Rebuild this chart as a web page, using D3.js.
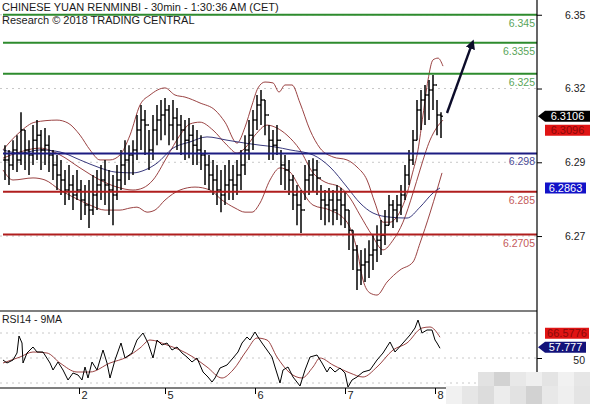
<!DOCTYPE html>
<html>
<head>
<meta charset="utf-8">
<script src="https://cdn.jsdelivr.net/npm/d3@7"></script>
<style>
body { margin: 0; background: #fff; }
svg { display: block; font-family: "Liberation Sans", Arial, sans-serif; }
</style>
</head>
<body>
<script>
// 30min bars, one entry per bar
var barHigh = [
  6.3008, 6.2992, 6.3025, 6.3042, 6.3120, 6.3059, 6.3025, 6.3076, 6.3093, 6.3059,
  6.3066, 6.3042, 6.2992, 6.2975, 6.2958, 6.2924, 6.2941, 6.2907, 6.2924, 6.2890,
  6.2873, 6.2890, 6.2907, 6.2924, 6.2941, 6.2958, 6.2924, 6.2907, 6.2941, 6.2992,
  6.3025, 6.3008, 6.3025, 6.3110, 6.3144, 6.3127, 6.3059, 6.3110, 6.3144, 6.3161,
  6.3168, 6.3144, 6.3161, 6.3134, 6.3110, 6.3093, 6.3100, 6.3076, 6.3059, 6.3042,
  6.2992, 6.2975, 6.2958, 6.2941, 6.2924, 6.2941, 6.2958, 6.2941, 6.2958, 6.2992,
  6.3042, 6.3093, 6.3127, 6.3178, 6.3195, 6.3161, 6.3076, 6.3059, 6.3076, 6.2992,
  6.2975, 6.2958, 6.2907, 6.2873, 6.2856, 6.2941, 6.2958, 6.2964, 6.2958, 6.2873,
  6.2856, 6.2863, 6.2856, 6.2873, 6.2863, 6.2849, 6.2788, 6.2720, 6.2670, 6.2653,
  6.2659, 6.2686, 6.2703, 6.2737, 6.2754, 6.2788, 6.2839, 6.2822, 6.2839, 6.2873,
  6.2941, 6.2992, 6.3059, 6.3161, 6.3195, 6.3212, 6.3229, 6.3246, 6.3161, 6.3120
];
var barLow = [
  6.2890, 6.2873, 6.2924, 6.2917, 6.2941, 6.2924, 6.2907, 6.2941, 6.2958, 6.2924,
  6.2941, 6.2917, 6.2890, 6.2856, 6.2839, 6.2805, 6.2822, 6.2788, 6.2822, 6.2754,
  6.2771, 6.2727, 6.2771, 6.2788, 6.2822, 6.2805, 6.2771, 6.2737, 6.2822, 6.2856,
  6.2873, 6.2890, 6.2907, 6.2958, 6.2992, 6.2975, 6.2924, 6.2958, 6.3008, 6.3025,
  6.3042, 6.3008, 6.3025, 6.2992, 6.2975, 6.2958, 6.2964, 6.2941, 6.2941, 6.2924,
  6.2873, 6.2856, 6.2839, 6.2805, 6.2781, 6.2805, 6.2822, 6.2822, 6.2839, 6.2856,
  6.2907, 6.2958, 6.2992, 6.3059, 6.3076, 6.3042, 6.2958, 6.2958, 6.2975, 6.2873,
  6.2856, 6.2839, 6.2788, 6.2737, 6.2710, 6.2822, 6.2839, 6.2849, 6.2839, 6.2754,
  6.2737, 6.2747, 6.2737, 6.2754, 6.2737, 6.2727, 6.2653, 6.2585, 6.2517, 6.2534,
  6.2544, 6.2558, 6.2585, 6.2612, 6.2636, 6.2670, 6.2737, 6.2727, 6.2747, 6.2771,
  6.2822, 6.2873, 6.2941, 6.3025, 6.3059, 6.3076, 6.3093, 6.3127, 6.3042, 6.3032
];
var barClose = [
  6.2958, 6.2941, 6.2992, 6.2958, 6.3059, 6.2992, 6.2975, 6.3025, 6.3042, 6.2992,
  6.3008, 6.2975, 6.2941, 6.2907, 6.2890, 6.2856, 6.2873, 6.2839, 6.2856, 6.2822,
  6.2805, 6.2788, 6.2839, 6.2873, 6.2890, 6.2873, 6.2856, 6.2839, 6.2890, 6.2941,
  6.2958, 6.2975, 6.2992, 6.3059, 6.3093, 6.3076, 6.2992, 6.3059, 6.3093, 6.3110,
  6.3127, 6.3076, 6.3100, 6.3076, 6.3059, 6.3025, 6.3042, 6.3008, 6.2992, 6.2975,
  6.2941, 6.2907, 6.2890, 6.2856, 6.2839, 6.2873, 6.2890, 6.2873, 6.2907, 6.2941,
  6.2992, 6.3042, 6.3093, 6.3144, 6.3161, 6.3110, 6.3025, 6.3008, 6.3025, 6.2941,
  6.2924, 6.2890, 6.2839, 6.2805, 6.2788, 6.2890, 6.2907, 6.2924, 6.2897, 6.2822,
  6.2805, 6.2822, 6.2788, 6.2822, 6.2805, 6.2788, 6.2720, 6.2653, 6.2585, 6.2602,
  6.2612, 6.2636, 6.2653, 6.2686, 6.2703, 6.2737, 6.2805, 6.2788, 6.2805, 6.2839,
  6.2907, 6.2958, 6.3025, 6.3127, 6.3161, 6.3178, 6.3195, 6.3212, 6.3110, 6.3106
];

// bollinger bands and moving average, read at bar positions
var upperIdx = [-0.5, 3.75, 7.5, 13, 15.75, 18.75, 21.25, 23.75, 26.25, 28.75, 31.25, 33.75, 36.25, 40, 42.5, 45, 48.75, 52.5, 55, 58, 60, 61.75, 63.25, 65, 67, 68.5, 70, 71.75, 73.75, 76.25, 78.75, 82, 85.5, 88, 90.5, 92.5, 94.5, 96.25, 98.25, 100, 101.75, 103.25, 104.5, 105.75, 107, 108.25, 109.5];
var upperVal = [6.2992, 6.3053, 6.3086, 6.3093, 6.3083, 6.3042, 6.2992, 6.2958, 6.2958, 6.2975, 6.3042, 6.3144, 6.3178, 6.3202, 6.3178, 6.3171, 6.3151, 6.3127, 6.3086, 6.3015, 6.3069, 6.3144, 6.3202, 6.3222, 6.3219, 6.3188, 6.3212, 6.3212, 6.3151, 6.3059, 6.2998, 6.2968, 6.2958, 6.2934, 6.2890, 6.2812, 6.2747, 6.2747, 6.2771, 6.2822, 6.2907, 6.2992, 6.3110, 6.3229, 6.3297, 6.3303, 6.3276];

var midIdx = [-0.5, 3.75, 8.75, 13.75, 18.75, 23.75, 28, 32, 34.5, 37, 40.5, 43.75, 46.25, 48.75, 52, 55.5, 58, 60, 62.5, 65.5, 68, 70.5, 73.75, 77, 80, 83.75, 86.25, 88.75, 91.75, 94.5, 97, 99.5, 102, 103.75, 106.25, 108, 109.5];
var midVal = [6.2964, 6.2985, 6.2998, 6.2975, 6.2931, 6.2890, 6.2866, 6.2856, 6.2863, 6.2890, 6.2968, 6.3042, 6.3080, 6.3086, 6.3059, 6.3008, 6.2981, 6.2998, 6.3042, 6.3076, 6.3066, 6.3042, 6.2992, 6.2914, 6.2883, 6.2866, 6.2829, 6.2771, 6.2703, 6.2653, 6.2686, 6.2747, 6.2846, 6.2924, 6.3025, 6.3069, 6.3093];

var lowIdx = [-0.5, 2, 7, 10, 13.75, 17.5, 21.25, 25, 28.75, 31.25, 33, 35.5, 37.5, 40, 43.75, 47.5, 51.25, 54.25, 57.5, 60, 61.75, 63.75, 66.25, 68.75, 71.25, 73.75, 77, 81.25, 85.5, 88, 89.5, 91.25, 93, 95.5, 98.75, 102, 103.75, 106.25, 108, 109.25];
var lowVal = [6.2924, 6.2890, 6.2897, 6.2890, 6.2856, 6.2829, 6.2805, 6.2788, 6.2788, 6.2795, 6.2798, 6.2781, 6.2788, 6.2822, 6.2856, 6.2866, 6.2856, 6.2822, 6.2795, 6.2781, 6.2781, 6.2812, 6.2890, 6.2931, 6.2917, 6.2863, 6.2805, 6.2788, 6.2747, 6.2653, 6.2551, 6.2507, 6.2500, 6.2544, 6.2585, 6.2612, 6.2676, 6.2778, 6.2856, 6.2914];

var maIdx = [-0.5, 3.75, 8.75, 13.75, 18.75, 23.75, 27.5, 32, 35, 38, 42, 46.25, 50.5, 55.5, 60, 63.75, 67.5, 71.25, 77, 81.25, 85.5, 88.75, 92, 96.25, 100.5, 103.75, 107, 108.75];
var maVal = [6.2992, 6.2981, 6.2992, 6.2985, 6.2958, 6.2931, 6.2917, 6.2914, 6.2924, 6.2947, 6.2998, 6.3019, 6.3036, 6.3025, 6.3015, 6.3008, 6.3002, 6.2992, 6.2975, 6.2934, 6.2866, 6.2812, 6.2778, 6.2764, 6.2761, 6.2798, 6.2846, 6.2863];

// RSI14 and its 9 period average
var rsiIdx = [-0.5, 0.5, 2, 3, 3.5, 4.25, 4.5, 5.5, 7, 8, 9.5, 11.25, 12, 13.25, 14.5, 15.75, 17, 18.25, 19.25, 20, 20.75, 21.75, 23, 23.75, 24.5, 25.5, 26.25, 27.5, 29, 30, 31.75, 33, 34.5, 35.75, 37, 38, 39.25, 40.5, 41.75, 43, 44.25, 45.5, 46.75, 48, 48.75, 49.5, 50.75, 51.75, 52.5, 53.75, 55.5, 57, 58.25, 59.25, 60.5, 61.25, 62.5, 63.25, 64.25, 65.5, 66.75, 67.5, 68.75, 69.5, 70.75, 72, 73.75, 75, 76.25, 78, 79.25, 80.5, 81.25, 82.5, 83.75, 85, 85.75, 86.75, 88, 89.5, 91.25, 93, 94.5, 96.25, 97.5, 99.5, 101.25, 102.5, 103.25, 104.25, 105.5, 106.75, 107.5, 108, 108.75];
var rsiVal = [48.4, 46, 48.4, 54, 67.6, 62, 46, 54, 58.8, 54.8, 54.8, 46, 40.4, 46.8, 40.4, 32.4, 38, 36.4, 32.4, 42.8, 34, 46.8, 40.4, 48.4, 56.4, 46, 34, 48.4, 62, 50, 54, 64.4, 70, 62, 50, 64.4, 60.4, 62, 56.4, 58.8, 54, 50.8, 46.8, 50, 44.4, 38.8, 34.8, 30.8, 34, 42, 44.4, 50, 54.8, 62, 66.8, 64.4, 70.8, 66.8, 62, 56.4, 50.8, 42.8, 30, 40.4, 42.8, 34.8, 27.6, 40.4, 50.8, 52.4, 46, 38.8, 42.8, 38.8, 42, 38, 26.8, 32.4, 34.8, 38.8, 40.4, 48.4, 54, 62.8, 54.8, 62, 68.4, 74, 80.4, 70, 72.4, 72.4, 64.4, 62, 57.8];
var rsiMaIdx = [-0.5, 3.75, 7, 10.5, 13.75, 18, 21.25, 26.25, 30.5, 33.75, 36.25, 40.5, 43.75, 47, 50.5, 54.25, 57, 60.5, 63, 65.5, 68, 71.25, 74.25, 77, 78.75, 82, 86.25, 89.5, 93, 97, 100.5, 104.25, 106.25, 108.75];
var rsiMaVal = [46, 50.8, 54.8, 54, 46, 38.8, 38.8, 46, 50.8, 58, 64.4, 60.4, 56.4, 50.8, 42.8, 34, 40.4, 56.4, 66, 64.4, 50.8, 38, 34, 42.8, 50, 44.4, 38, 34.8, 42.8, 56.4, 62, 74, 74.8, 66.6];

// axes
var dayTickIdx = [18.5, 40, 62.5, 85, 107.5];
var dayTickLabels = ["2", "5", "6", "7", "8"];
var priceTicks = [6.345, 6.32, 6.295, 6.27];
var priceTickLabels = ["6.35", "6.32", "6.29", "6.27"];
var rsiGrid = [70, 50, 30];
var rsiTicks = [50];

// support / resistance levels
var levelValues = [6.345, 6.3355, 6.325, 6.298, 6.285, 6.2705];
var levelLabels = ["6.345", "6.3355", "6.325", "6.298", "6.285", "6.2705"];
var levelKinds = ["res", "res", "res", "pivot", "sup", "sup"];

// last values shown on the right
var lastPrice = 6.3106, lastPrice2 = 6.3096, lastMa = 6.2863;
var lastRsi = 57.777, lastRsiMa = 66.5776;

// forecast arrow: [bar index, price]
var arrowFrom = [110.5, 6.3117];
var arrowTo = [116.75, 6.3351];

var W = 590, H = 404, axisX = 537;
var lineColor = { res: "#2e8b2e", pivot: "#1c1c82", sup: "#b01e1e" };
var labelColor = { res: "#5aa55a", pivot: "#4a4a96", sup: "#c45a5a" };
var bandColor = "#8e2e2e";

var svg = d3.select("body").append("svg")
    .attr("width", W)
    .attr("height", H);

var x = d3.scaleLinear().domain([0, barHigh.length - 1]).range([5, 441]);
var y = d3.scaleLinear().domain([6.2446, 6.35]).range([311, 0]);
var yR = d3.scaleLinear().domain([30, 70]).range([383, 333]);

function pts(idx, vals) {
    return idx.map(function(d, k) { return { i: d, v: vals[k] }; });
}

// dotted grid
svg.selectAll(".pgrid").data(priceTicks).enter().append("line")
    .attr("x1", 0).attr("x2", axisX)
    .attr("y1", d => y(d)).attr("y2", d => y(d))
    .attr("stroke", "#c8c8c8").attr("stroke-dasharray", "2,4");
svg.selectAll(".rgrid").data(rsiGrid).enter().append("line")
    .attr("x1", 0).attr("x2", axisX)
    .attr("y1", d => yR(d)).attr("y2", d => yR(d))
    .attr("stroke", "#c8c8c8").attr("stroke-dasharray", "2,4");

// bands and moving average
var priceLine = d3.line()
    .x(d => x(d.i))
    .y(d => y(d.v))
    .curve(d3.curveMonotoneX);

[pts(upperIdx, upperVal), pts(midIdx, midVal), pts(lowIdx, lowVal)].forEach(function(s) {
    svg.append("path")
        .attr("d", priceLine(s))
        .attr("fill", "none")
        .attr("stroke", bandColor)
        .attr("stroke-width", 0.9);
});
svg.append("path")
    .attr("d", priceLine(pts(maIdx, maVal)))
    .attr("fill", "none")
    .attr("stroke", "#22226e")
    .attr("stroke-width", 0.9);

// OHLC bars
var bars = barHigh.map(function(h, i) {
    return { i: i, high: h, low: barLow[i], close: barClose[i],
             open: i > 0 ? barClose[i - 1] : barClose[0] };
});
var barG = svg.append("g").attr("stroke", "#000").attr("stroke-width", 1.5);
barG.selectAll(".hl").data(bars).enter().append("line")
    .attr("x1", d => x(d.i)).attr("x2", d => x(d.i))
    .attr("y1", d => y(d.high)).attr("y2", d => y(d.low));
barG.selectAll(".op").data(bars).enter().append("line")
    .attr("x1", d => x(d.i) - 1.8).attr("x2", d => x(d.i))
    .attr("y1", d => y(d.open)).attr("y2", d => y(d.open));
barG.selectAll(".cl").data(bars).enter().append("line")
    .attr("x1", d => x(d.i)).attr("x2", d => x(d.i) + 1.8)
    .attr("y1", d => y(d.close)).attr("y2", d => y(d.close));

// support / resistance lines with labels
levelValues.forEach(function(v, k) {
    var kind = levelKinds[k];
    svg.append("line")
        .attr("x1", 3).attr("x2", axisX)
        .attr("y1", y(v)).attr("y2", y(v))
        .attr("stroke", lineColor[kind])
        .attr("stroke-width", 2);
    svg.append("text")
        .attr("x", axisX - 2).attr("y", y(v) + 12)
        .attr("text-anchor", "end")
        .attr("font-size", 10.5)
        .attr("fill", labelColor[kind])
        .text(levelLabels[k]);
});

// forecast arrow
svg.append("defs").append("marker")
    .attr("id", "head")
    .attr("viewBox", "0 0 10 10")
    .attr("refX", 5).attr("refY", 5)
    .attr("markerWidth", 4).attr("markerHeight", 4)
    .attr("orient", "auto")
    .append("path").attr("d", "M0,0 L10,5 L0,10 Z").attr("fill", "#0c0c2a");
svg.append("line")
    .attr("x1", x(arrowFrom[0])).attr("y1", y(arrowFrom[1]))
    .attr("x2", x(arrowTo[0])).attr("y2", y(arrowTo[1]))
    .attr("stroke", "#0c0c2a")
    .attr("stroke-width", 2.4)
    .attr("marker-end", "url(#head)");

// RSI panel
var rsiLine = d3.line().x(d => x(d.i)).y(d => yR(d.v));
svg.append("path")
    .attr("d", rsiLine.curve(d3.curveMonotoneX)(pts(rsiMaIdx, rsiMaVal)))
    .attr("fill", "none").attr("stroke", bandColor).attr("stroke-width", 0.9);
svg.append("path")
    .attr("d", rsiLine.curve(d3.curveLinear)(pts(rsiIdx, rsiVal)))
    .attr("fill", "none").attr("stroke", "#000").attr("stroke-width", 1);

// frame lines
svg.append("line").attr("x1", 0).attr("x2", axisX).attr("y1", 311).attr("y2", 311)
    .attr("stroke", "#000").attr("stroke-width", 1.2);
svg.append("line").attr("x1", 0).attr("x2", axisX).attr("y1", 388).attr("y2", 388)
    .attr("stroke", "#000").attr("stroke-width", 1.2);
svg.append("line").attr("x1", axisX).attr("x2", axisX).attr("y1", 0).attr("y2", 388)
    .attr("stroke", "#000").attr("stroke-width", 1.2);

// right price axis
var yAxis = d3.axisRight(y)
    .tickValues(priceTicks)
    .tickFormat((d, k) => priceTickLabels[k])
    .tickSize(5)
    .tickPadding(23);
var yAxisG = svg.append("g").attr("transform", "translate(" + axisX + ",0)").call(yAxis);
yAxisG.select(".domain").remove();

var rAxis = d3.axisRight(yR)
    .tickValues(rsiTicks)
    .tickSize(5)
    .tickPadding(33);
var rAxisG = svg.append("g").attr("transform", "translate(" + axisX + ",0)").call(rAxis);
rAxisG.select(".domain").remove();

[yAxisG, rAxisG].forEach(function(g) {
    g.selectAll("text")
        .attr("font-family", "Liberation Sans, Arial, sans-serif")
        .attr("font-size", 10.5)
        .attr("fill", "#222");
});
rAxisG.selectAll("text").attr("text-anchor", "end").attr("x", 48).attr("dy", "0.55em");

// day axis
var xAxis = d3.axisBottom(x)
    .tickValues(dayTickIdx)
    .tickFormat((d, k) => dayTickLabels[k])
    .tickSize(6);
var xAxisG = svg.append("g").attr("transform", "translate(0,388)").call(xAxis);
xAxisG.select(".domain").remove();
xAxisG.selectAll("text")
    .attr("font-family", "Liberation Sans, Arial, sans-serif")
    .attr("font-size", 11)
    .attr("fill", "#222")
    .attr("text-anchor", "start")
    .attr("x", 2)
    .attr("y", 3);

// value tags on the right
function tag(yc, label, fill, color, pointer, right) {
    var hh = 5.5;
    var p = pointer
        ? "M" + (axisX + 1) + "," + yc + " L" + (axisX + 8) + "," + (yc - hh) + " L" + right + "," + (yc - hh) + " L" + right + "," + (yc + hh) + " L" + (axisX + 8) + "," + (yc + hh) + " Z"
        : "M" + (axisX + 8) + "," + (yc - hh) + " L" + right + "," + (yc - hh) + " L" + right + "," + (yc + hh) + " L" + (axisX + 8) + "," + (yc + hh) + " Z";
    svg.append("path").attr("d", p).attr("fill", fill);
    svg.append("text")
        .attr("x", (axisX + 8 + right) / 2).attr("y", yc + 4)
        .attr("text-anchor", "middle")
        .attr("font-size", 11)
        .attr("fill", color)
        .text(label);
}
tag(y(lastPrice2) + 11, d3.format(".4f")(lastPrice2), "#e01414", "#8a0a0a", false, 590);
tag(y(lastPrice), d3.format(".4f")(lastPrice), "#000", "#fff", true, 590);
tag(y(lastMa), d3.format(".4f")(lastMa), "#1212c8", "#fff", false, 586);
tag(yR(lastRsiMa) - 4, String(lastRsiMa), "#e01414", "#8a0a0a", false, 589);
tag(yR(lastRsi) - 1, String(lastRsi), "#12127a", "#fff", true, 586);

// titles
svg.append("text").attr("x", 2).attr("y", 11).attr("font-size", 11).attr("fill", "#1a1a1a")
    .text("CHINESE YUAN RENMINBI - 30min - 1:30:36 AM (CET)");
svg.append("text").attr("x", 2).attr("y", 24).attr("font-size", 11).attr("fill", "#1a1a1a")
    .text("Research \u00a9 2018 TRADING CENTRAL");
svg.append("text").attr("x", 2).attr("y", 323).attr("font-size", 10.5).attr("fill", "#1a1a1a")
    .text("RSI14 - 9MA");

// blurred watermark patch in the bottom right corner
var blurShades = ["#f1f1f1", "#e6e6e6", "#dcdcdc", "#ececec", "#e2e2e2", "#d2d2d2", "#e8e8e8", "#efefef", "#e4e4e4"];
blurShades.forEach(function(c, k) {
    svg.append("rect")
        .attr("x", 446 + k * 16).attr("y", 386)
        .attr("width", 16).attr("height", 18)
        .attr("fill", c);
});
blurShades.slice(2).forEach(function(c, k) {
    svg.append("rect")
        .attr("x", 478 + k * 16).attr("y", 372)
        .attr("width", 16).attr("height", 14)
        .attr("fill", blurShades[(k + 4) % blurShades.length]);
});
</script>
</body>
</html>
